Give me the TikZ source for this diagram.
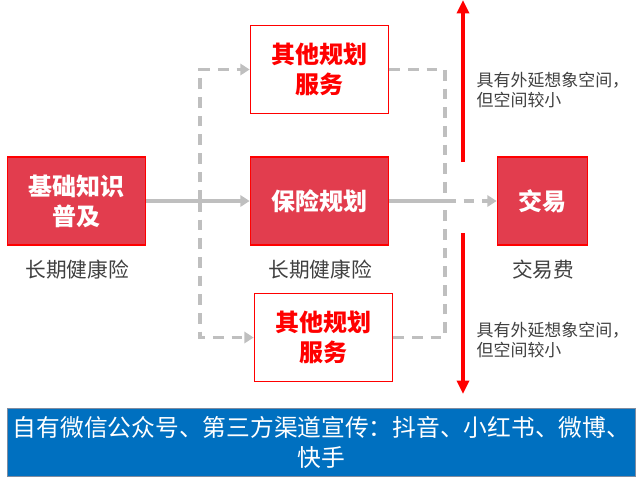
\documentclass[tikz,border=0pt]{standalone}
\usepackage{fontspec}
\newfontfamily\cjk{Noto Sans CJK SC}
\usepackage{xcolor}
\definecolor{boxred}{RGB}{226,61,78}
\definecolor{linegray}{RGB}{191,191,191}
\definecolor{textgray}{RGB}{64,64,64}
\definecolor{barblue}{RGB}{0,112,192}
\definecolor{bargray}{RGB}{127,140,160}
\usetikzlibrary{arrows.meta,positioning}

\tikzset{
  redbox/.style={fill=boxred, draw=red, line width=0.8pt, text=white, align=center,
    font=\cjk\bfseries\fontsize{18}{22.5}\selectfont, minimum height=66pt, inner sep=0pt},
  outbox/.style={fill=white, draw=red, line width=0.8pt, text=red, align=center,
    font=\cjk\bfseries\fontsize{18}{22.5}\selectfont, minimum height=66pt, minimum width=104pt, inner sep=0pt},
  sublabel/.style={text=textgray, font=\cjk\fontsize{15.5}{18}\selectfont},
  notelabel/.style={text=textgray, font=\cjk\fontsize{12.7}{15}\selectfont, align=left, anchor=west},
  grayline/.style={draw=linegray, line width=2.7pt},
  grayarrow/.style={grayline, -{Triangle[length=7pt,width=8.5pt]}},
  graydash/.style={grayline, dash pattern=on 8pt off 6pt},
  redarrow/.style={draw=red, line width=2.4pt, -{Triangle[length=10pt,width=9pt]}}
}

\begin{document}
\begin{tikzpicture}[x=0.75pt,y=-0.75pt]
  \useasboundingbox (0,0) rectangle (638,479);

  % main boxes
  \node[redbox, minimum width=104pt] (basic) at (76.5,201) {基础知识\\普及};
  \node[redbox, minimum width=104pt] (plan) at (319.5,201) {保险规划};
  \node[redbox, minimum width=68pt] (deal) at (542.5,201) {交易};
  \node[outbox] (topsvc) at (319.5,69.5) {其他规划\\服务};
  \node[outbox] (botsvc) at (323.5,337.5) {其他规划\\服务};

  % labels under boxes
  \node[sublabel] (basiclbl) at (77,270) {长期健康险};
  \node[sublabel] (planlbl) at (320,270) {长期健康险};
  \node[sublabel] (deallbl) at (543,270) {交易费};

  % gray flows
  \coordinate (split) at (200,201);
  \coordinate (merge) at (445,201);
  \draw[grayarrow] (basic) -- (plan);
  \draw[graydash, -{Triangle[length=7pt,width=8.5pt]}] (split) |- (topsvc);
  \draw[graydash, -{Triangle[length=7pt,width=8.5pt]}] (split) |- (botsvc);
  \draw[graydash] (topsvc) -| (merge);
  \draw[graydash] (botsvc) -| (merge);
  \draw[grayline] (plan) -- (merge);
  \draw[graydash, -{Triangle[length=7pt,width=8.5pt]}] (merge) -- (deal);

  % red arrows
  \coordinate (upfrom) at (463,162);
  \coordinate (upto) at (463,0);
  \coordinate (downfrom) at (463,233);
  \coordinate (downto) at (463,394);
  \draw[redarrow] (upfrom) -- (upto);
  \draw[redarrow] (downfrom) -- (downto);

  % notes
  \node[notelabel] (topnote) at (472,90) {具有外延想象空间，\\但空间较小};
  \node[notelabel] (botnote) at (472,340) {具有外延想象空间，\\但空间较小};

  % channel bar
  \node[fill=barblue, draw=bargray, line width=0.8pt, text=white, align=center,
    minimum width=471.5pt, minimum height=51.5pt, inner sep=0pt,
    font=\cjk\fontsize{17.8}{22.5}\selectfont] (channel) at (321.5,442.5)
    {自有微信公众号、第三方渠道宣传：抖音、小红书、微博、\\快手};
\end{tikzpicture}
\end{document}
